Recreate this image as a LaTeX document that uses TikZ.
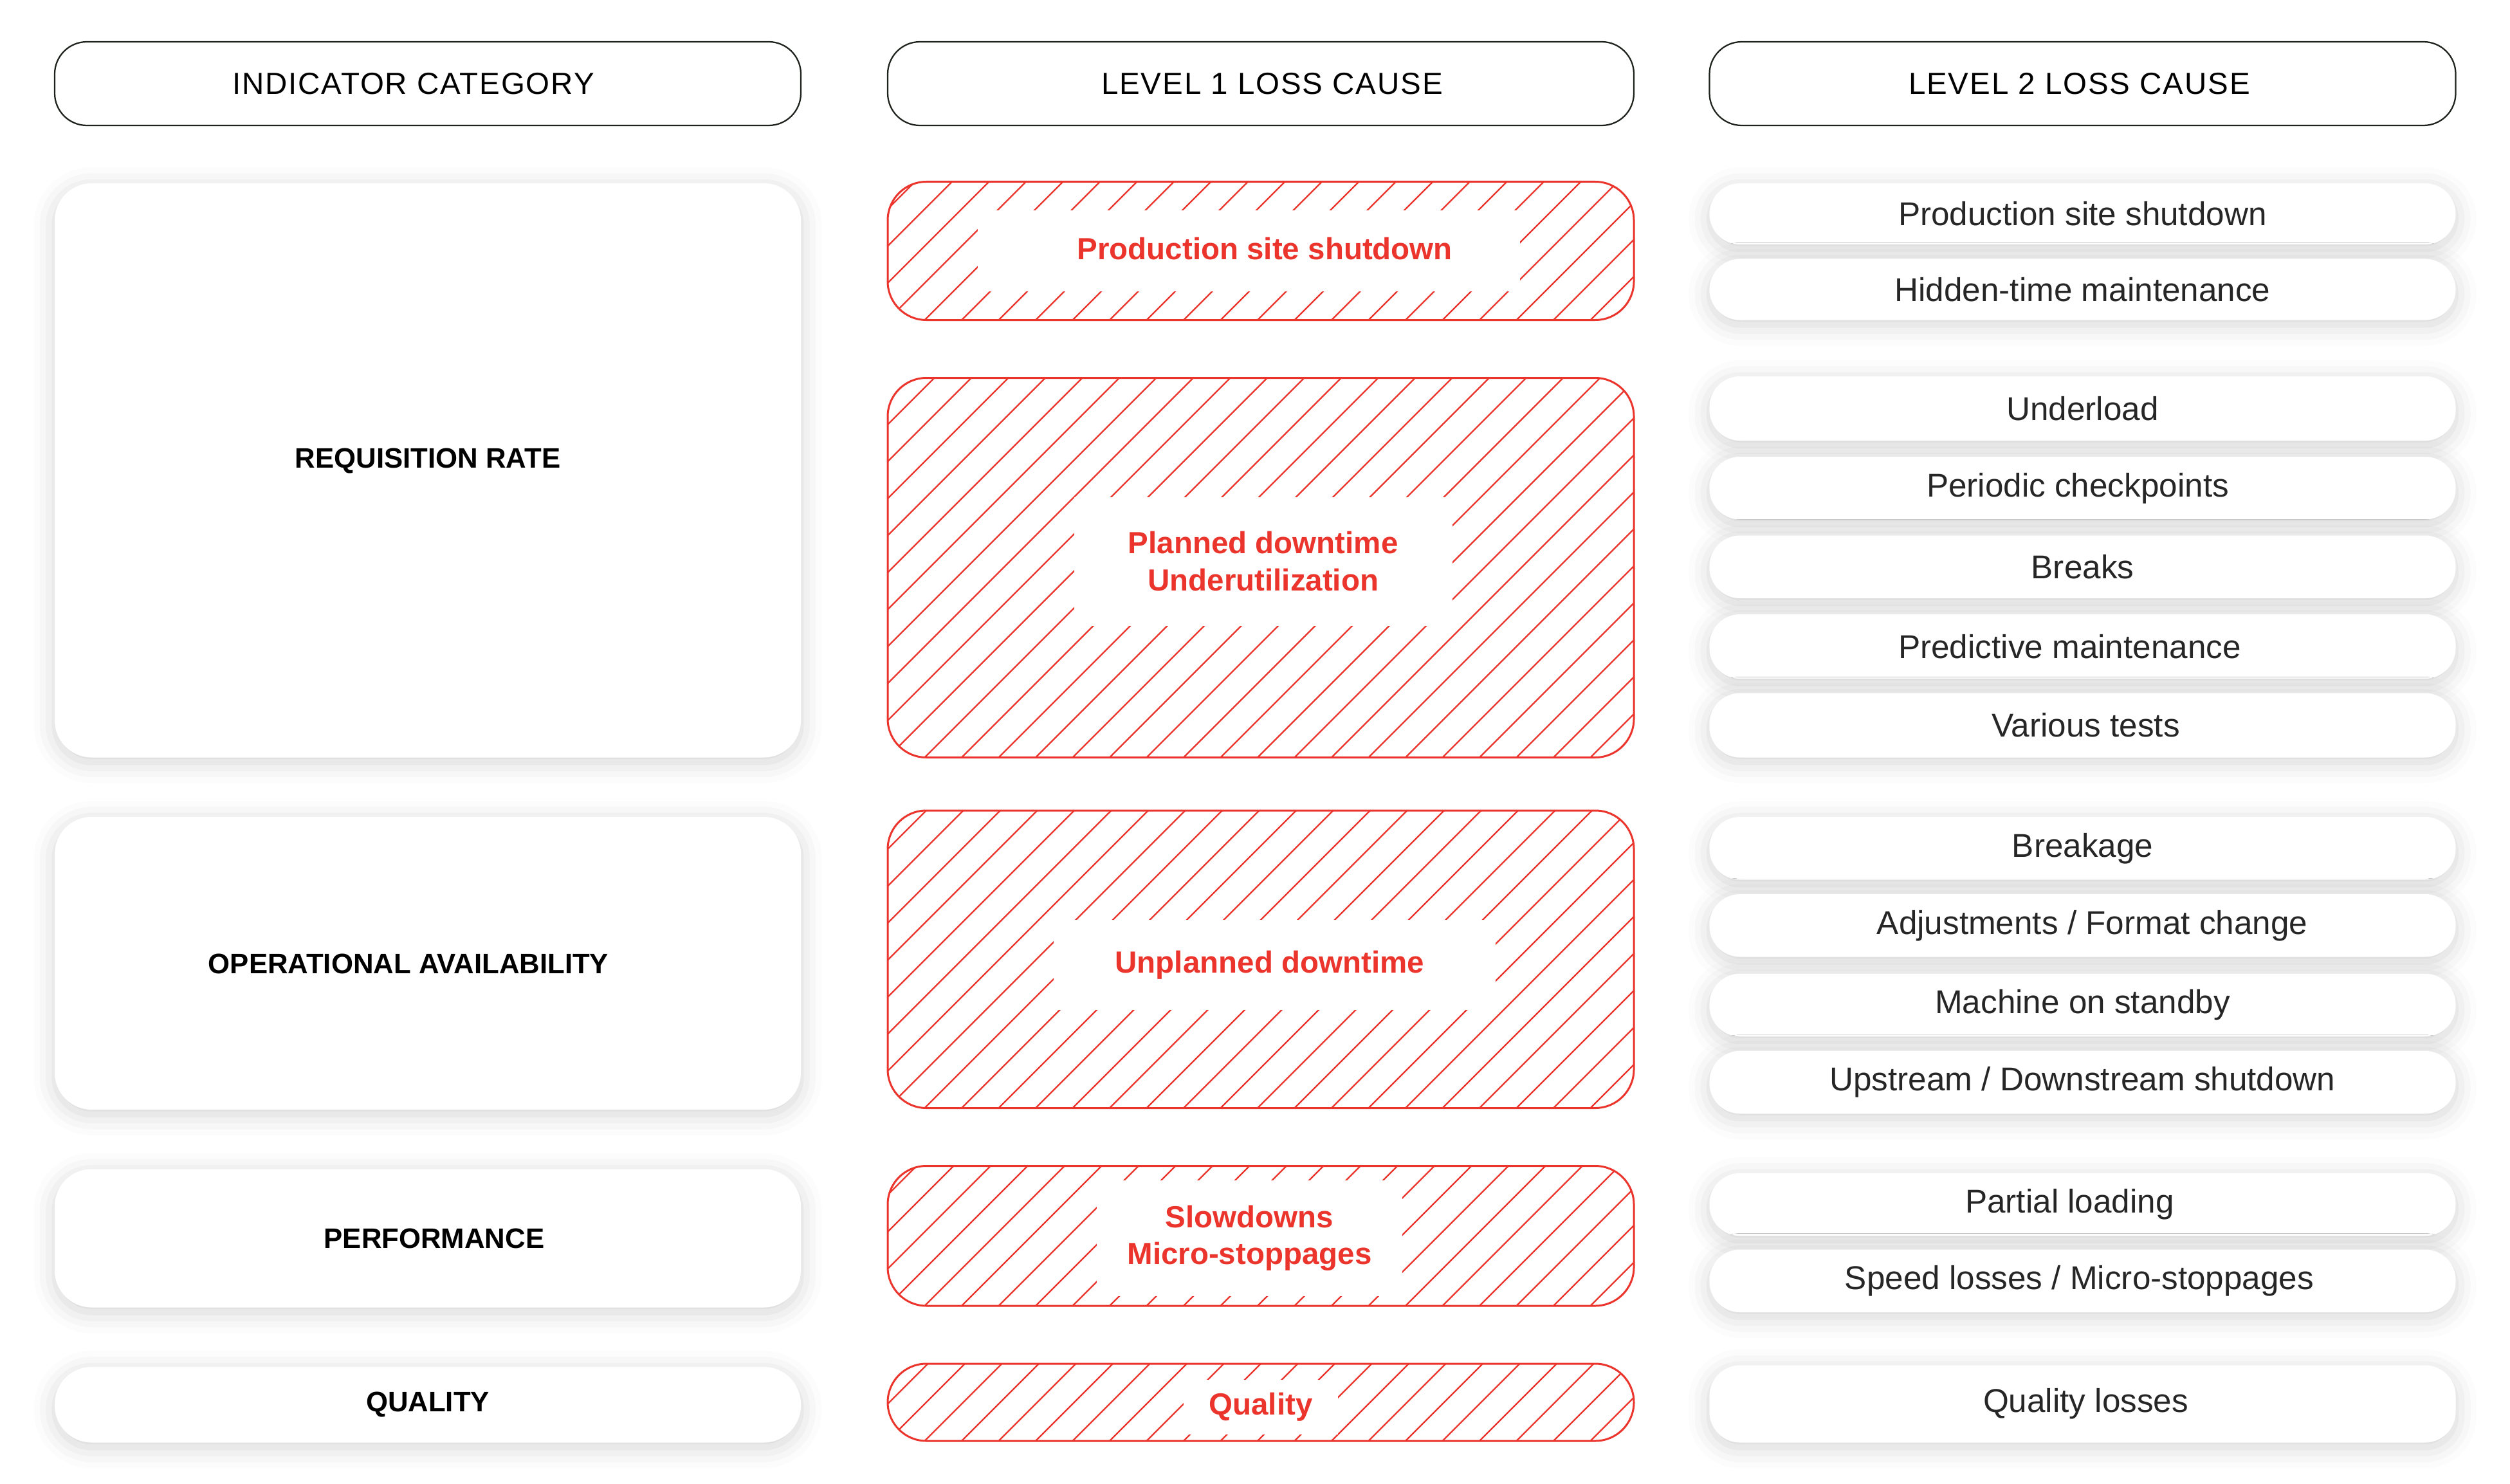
\documentclass[tikz,border=0pt]{standalone}
\usepackage{fontspec}
\setmainfont{Liberation Sans}
\usetikzlibrary{calc,shadows.blur}
\definecolor{lossred}{RGB}{234,52,44}
\definecolor{framedark}{RGB}{30,34,28}
\tikzset{
  head/.style={draw=framedark, line width=0.9pt, rounded corners=20pt, minimum width=464pt, minimum height=52pt,
    font=\fontsize{19}{22}\selectfont\addfontfeatures{LetterSpace=4}},
  card/.style={fill=white, rounded corners=23pt, minimum width=464pt, text=black,
    blur shadow={shadow xshift=0pt, shadow yshift=-3pt, shadow blur radius=13pt, shadow opacity=17},
    font=\fontsize{17.5}{21}\selectfont\bfseries},
  cardtxt/.style={inner sep=0pt, text=black, font=\fontsize{17.5}{21}\selectfont\bfseries},
  pill/.style={fill=white, rounded corners=19pt, minimum width=464pt, minimum height=39pt, text=black!85,
    blur shadow={shadow xshift=0pt, shadow yshift=-3pt, shadow blur radius=13pt, shadow opacity=17},
    font=\fontsize{20.5}{24}\selectfont},
  hatchbox/.style={draw=lossred, line width=1.2pt, rounded corners=24pt, minimum width=464pt,
    path picture={
      \foreach \i in {-12,...,21}
        \draw[lossred, line width=0.9pt] ($(path picture bounding box.south west)+(\i*23pt,0pt)$) -- ++(260pt,260pt);
    }},
  redlbl/.style={fill=white, text=lossred, align=center, inner sep=0pt,
    font=\fontsize{19}{23}\selectfont\bfseries},
}
\begin{document}
\begin{tikzpicture}[x=1pt, y=-1pt]
    \useasboundingbox (0,0) rectangle (1560.8,922.8);
    % column headers
    \node[head] (hcat) at (266,52) {\hspace*{-18pt}INDICATOR CATEGORY};
    \node[head] (hlvl1) at (784,52) {\hspace*{14pt}LEVEL 1 LOSS CAUSE};
    \node[head] (hlvl2) at (1295,52) {\hspace*{-4pt}LEVEL 2 LOSS CAUSE};
    % indicator categories
    \node[card, minimum height=357pt] (req) at (266,292.5) {};
    \node[cardtxt] (reqtxt) at (266,286.5) {REQUISITION RATE};
    \node[card, minimum height=182pt] (avail) at (266,599) {};
    \node[cardtxt] (availtxt) at (254,599.5) {OPERATIONAL AVAILABILITY};
    \node[card, minimum height=86pt] (perf) at (266,770) {\hspace*{8pt}PERFORMANCE};
    \node[card, minimum height=47pt] (qual) at (266,873.5) {QUALITY};
    % level 1 causes
    \node[hatchbox, minimum height=86pt] (shut) at (784,156) {};
    \node[hatchbox, minimum height=236pt] (planned) at (784,353) {};
    \node[hatchbox, minimum height=185pt] (unplanned) at (784,596.5) {};
    \node[hatchbox, minimum height=87pt] (slow) at (784,768.5) {};
    \node[hatchbox, minimum height=48pt] (qlty) at (784,872) {};
    \node[redlbl, minimum width=337pt, minimum height=50pt] (shutlbl) at (776.5,156) {\hspace*{20pt}\raisebox{3pt}{Production site shutdown}};
    \node[redlbl, minimum width=235pt, minimum height=80pt] (plannedlbl) at (785.5,349) {Planned downtime\\Underutilization};
    \node[redlbl, minimum width=275pt, minimum height=56pt] (unplannedlbl) at (792.5,600) {\hspace*{-6pt}Unplanned downtime};
    \node[redlbl, minimum width=190pt, minimum height=72pt] (slowlbl) at (777,770) {Slowdowns\\Micro-stoppages};
    \node[redlbl, minimum width=96pt, minimum height=34pt] (qltylbl) at (784,875) {Quality};
    % level 2 causes
    \node[pill, minimum height=38pt] (siteshut) at (1295,133) {Production site shutdown};
    \node[pill, minimum height=38pt] (hidden) at (1295,180) {Hidden-time maintenance};
    \node[pill, minimum height=40pt] (underload) at (1295,254) {Underload};
    \node[pill] (checkpts) at (1295,303.5) {\hspace*{-6pt}Periodic checkpoints};
    \node[pill] (breaks) at (1295,352.5) {Breaks};
    \node[pill, minimum height=40pt] (predict) at (1295,402) {\hspace*{-16pt}Predictive maintenance};
    \node[pill, minimum height=40pt] (tests) at (1295,451) {\hspace*{4pt}Various tests};
    \node[pill] (breakage) at (1295,527.5) {Breakage};
    \node[pill] (adjust) at (1295,575.5) {\hspace*{12pt}Adjustments / Format change};
    \node[pill] (standby) at (1295,625) {Machine on standby};
    \node[pill] (updown) at (1295,673) {Upstream / Downstream shutdown};
    \node[pill] (partial) at (1295,749) {\hspace*{-16pt}Partial loading};
    \node[pill] (speed) at (1295,796.5) {\hspace*{-4pt}Speed losses / Micro-stoppages};
    \node[pill, minimum height=48pt] (qloss) at (1295,873) {\hspace*{4pt}Quality losses};
\end{tikzpicture}
\end{document}
